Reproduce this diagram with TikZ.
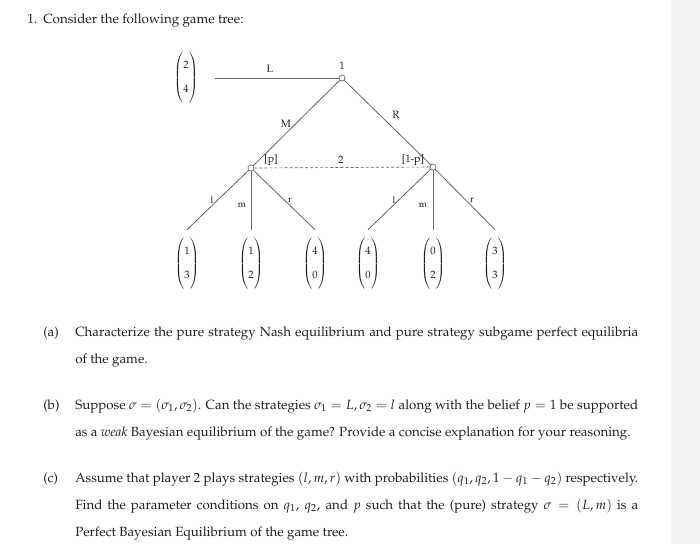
\documentclass[tikz,border=0pt]{standalone}
\usepackage[T1]{fontenc}
\usepackage{mathpazo}
\usetikzlibrary{positioning}
\definecolor{ink}{RGB}{30,30,30}
\definecolor{branch}{RGB}{100,100,100}
\definecolor{sidebar}{RGB}{240,241,243}
\newcommand{\pay}[2]{$\left(\vcenter{\hbox{\rule{0pt}{41pt}}}\begin{array}{@{}c@{}}#1\\[8pt]#2\end{array}\right)$}
\tikzset{
  dec/.style={circle, draw=branch, fill=white, line width=0.5pt, minimum size=4.5pt, inner sep=0pt},
  move/.style={draw=branch, line width=0.6pt},
  info/.style={draw=branch, line width=0.5pt, dash pattern=on 2.2pt off 1.6pt},
  lab/.style={font=\footnotesize, inner sep=1pt, text=ink},
  act/.style={font=\scriptsize, inner sep=1pt, text=ink},
  payoff/.style={font=\footnotesize, text=ink, inner sep=0pt, outer xsep=12.75pt, outer ysep=5.25pt},
  para/.style={anchor=base west, inner sep=0pt, text width=422.25pt, align=justify, text=ink,
    font=\fontsize{10}{20.25}\selectfont},
}

\begin{document}
\begin{tikzpicture}[x=0.75pt, y=-0.75pt]
  \useasboundingbox (0,0) rectangle (700,544);
  \fill[sidebar] (671,0) rectangle (700,544);
  \node[anchor=base west, inner sep=0pt, text=ink, font=\fontsize{10}{12}\selectfont] (head) at (27,23)
    {\makebox[12pt][l]{1.}Consider the following game tree:};
  % the tree
  \node[dec] (n1) at (342,78) {};
  \node[dec] (n2a) at (251,168) {};
  \node[dec] (n2b) at (433,167) {};
  \node[payoff] (z0) at (186,78) {\pay{2}{4}};
  \node[payoff] (z1) at (187,264) {\pay{1}{3}};
  \node[payoff] (z2) at (251,264) {\pay{1}{2}};
  \node[payoff] (z3) at (315,264) {\pay{4}{0}};
  \node[payoff] (z4) at (368,264) {\pay{4}{0}};
  \node[payoff] (z5) at (433,264) {\pay{0}{2}};
  \node[payoff] (z6) at (495,264) {\pay{3}{3}};
  \draw[move] (z0.east) -- (n1);
  \draw[move] (n1) -- (n2a);
  \draw[move] (n1) -- (n2b);
  \draw[info] (n2a) -- (n2b);
  \foreach \z in {1,2,3} \draw[move] (n2a) -- (z\z.north);
  \foreach \z in {4,5,6} \draw[move] (n2b) -- (z\z.north);
  \node[lab] (t1) at (342,66) {1};
  \node[lab] (tL) at (270,69) {L};
  \node[lab] (tM) at (286,124) {M};
  \node[lab] (tR) at (396,115) {R};
  \node[lab] (tp) at (271,160) {[p]};
  \node[lab] (t2) at (341,160) {2};
  \node[lab] (tq) at (413,160) {[1-p]};
  \node[act] (al) at (212,200) {l};
  \node[act] (am) at (242,205) {m};
  \node[act] (ar) at (290,200) {r};
  \node[act] (bl) at (394,200) {l};
  \node[act] (bm) at (423,205) {m};
  \node[act] (br) at (472,200) {r};
  % the questions
  \node[para] (qa) at (75,336) {\llap{\makebox[24pt][l]{(a)}}Characterize the pure strategy Nash equilibrium and pure strategy subgame perfect equilibria\linebreak of the game.};
  \node[para] (qb) at (75,409) {\llap{\makebox[24pt][l]{(b)}}Suppose $\sigma=(\sigma_1,\sigma_2)$. Can the strategies $\sigma_1=L,\sigma_2=l$ along with the belief $p=1$ be supported\linebreak as a \emph{weak} Bayesian equilibrium of the game? Provide a concise explanation for your reasoning.};
  \node[para] (qc) at (75,482) {\llap{\makebox[24pt][l]{(c)}}Assume that player 2 plays strategies $(l,m,r)$ with probabilities $(q_1,q_2,1-q_1-q_2)$ respectively.\linebreak Find the parameter conditions on $q_1$, $q_2$, and $p$ such that the (pure) strategy $\sigma=(L,m)$ is a\linebreak Perfect Bayesian Equilibrium of the game tree.};
\end{tikzpicture}
\end{document}
